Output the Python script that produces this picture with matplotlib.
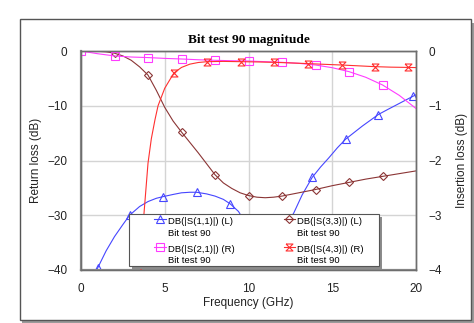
import numpy as np
import matplotlib
matplotlib.use("Agg")
import matplotlib.pyplot as plt
from matplotlib.patches import Rectangle
from matplotlib.legend_handler import HandlerLine2D

# --- data (GHz, dB) ---
# DB(|S(1,1)|), left axis
s11_f = [0.8, 1.0, 1.5, 2.0, 2.5, 2.9, 3.5, 4.0, 4.5, 4.9, 5.5, 6.0, 6.5, 6.9, 7.5, 8.0, 8.5, 8.9,
         9.4, 9.8, 10.2, 10.6, 10.9, 11.3, 11.7, 12.1, 12.7, 13.2, 13.8, 14.3, 14.8, 15.3, 15.8,
         16.3, 16.8, 17.3, 17.75, 18.3, 18.8, 19.3, 19.8, 20.0]
s11_db = [-40.6, -39.6, -36.5, -33.9, -31.7, -30.0, -28.4, -27.5, -26.9, -26.6, -26.2, -25.9,
          -25.8, -25.8, -26.1, -26.5, -27.1, -27.9, -29.3, -31.3, -33.8, -36.9, -39.9, -37.5,
          -35.0, -32.6, -29.6, -26.3, -23.1, -21.2, -19.5, -17.7, -16.1, -14.9, -13.7, -12.6,
          -11.6, -10.7, -9.9, -9.1, -8.3, -8.0]
s11_marks = [1.0, 2.9, 4.9, 6.9, 8.9, 10.9, 13.8, 15.8, 17.75, 19.8]

# DB(|S(3,3)|), left axis
s33_f = [0.0, 1.0, 1.5, 2.0, 2.5, 3.0, 3.5, 4.0, 4.5, 5.0, 5.5, 6.0, 6.5, 7.0, 7.5, 8.0, 8.5, 9.0,
         9.5, 10.0, 10.5, 11.0, 11.5, 12.0, 12.5, 13.0, 13.5, 14.0, 15.0, 16.0, 17.0, 18.0,
         19.0, 20.0]
s33_db = [0.0, -0.05, -0.15, -0.4, -0.9, -1.7, -2.9, -4.4, -7.2, -10.3, -12.8, -14.8, -16.7,
          -18.6, -20.6, -22.6, -24.1, -25.1, -25.9, -26.4, -26.7, -26.8, -26.7, -26.5, -26.2,
          -25.9, -25.6, -25.3, -24.6, -24.0, -23.4, -22.9, -22.4, -21.9]
s33_marks = [2.0, 4.0, 6.0, 8.0, 10.0, 12.0, 14.0, 16.0, 18.0]

# DB(|S(2,1)|), right axis
s21_f = [0.0, 1.0, 2.0, 3.0, 4.0, 5.0, 6.0, 7.0, 8.0, 9.0, 10.0, 11.0, 12.0, 13.0, 14.0, 15.0,
         16.0, 17.0, 18.0, 19.0, 20.0]
s21_db = [0.0, -0.05, -0.09, -0.11, -0.12, -0.135, -0.146, -0.16, -0.17, -0.178, -0.183,
          -0.195, -0.207, -0.225, -0.256, -0.305, -0.377, -0.48, -0.62, -0.81, -1.05]
s21_marks = [0.0, 2.0, 4.0, 6.0, 8.0, 10.0, 12.0, 14.0, 16.0, 18.0]

# DB(|S(4,3)|), right axis
s43_f = [3.3, 3.55, 3.76, 4.0, 4.2, 4.42, 4.6, 5.0, 5.55, 6.0, 6.5, 7.0, 7.54, 8.5, 9.53, 10.5,
         11.54, 12.5, 13.57, 14.5, 15.56, 16.5, 17.55, 18.5, 19.54, 20.0]
s43_db = [-5.2, -4.2, -2.97, -2.05, -1.6, -1.25, -1.0, -0.68, -0.4, -0.3, -0.24, -0.21, -0.195,
          -0.19, -0.195, -0.2, -0.207, -0.218, -0.23, -0.243, -0.256, -0.27, -0.286, -0.295,
          -0.3, -0.303]
s43_marks = [3.55, 5.55, 7.54, 9.53, 11.54, 13.57, 15.56, 17.55, 19.54]

legend_text = ["DB(|S(1,1)|) (L)\nBit test 90", "DB(|S(2,1)|) (R)\nBit test 90",
               "DB(|S(3,3)|) (L)\nBit test 90", "DB(|S(4,3)|) (R)\nBit test 90"]

plt.rcParams['font.family'] = ['Liberation Sans', 'DejaVu Sans']

hourglass = [(-1, 1), (1, 1), (-1, -1), (1, -1), (-1, 1)]


def marks(f, m):
    f = np.asarray(f)
    return [int(np.argmin(np.abs(f - v))) for v in m]


class FirstLineHandler(HandlerLine2D):
    # put the legend sample next to the first line of a two-line label
    def create_artists(self, legend, orig_handle, xdescent, ydescent, width, height,
                       fontsize, trans):
        return super().create_artists(legend, orig_handle, xdescent, ydescent - 1.85 * fontsize,
                                      width, height, fontsize, trans)


fig = plt.figure(figsize=(4.74, 3.23), dpi=100)
fw, fh = 474.0, 323.0

# outer frame with drop shadow
fig.patches.append(Rectangle((22 / fw, 0.5 / fh), 452 / fw, 300 / fh, transform=fig.transFigure,
                             facecolor='#9a9a9a', edgecolor='none', zorder=-2))
fig.patches.append(Rectangle((19.5 / fw, 3 / fh), 451 / fw, 301 / fh, transform=fig.transFigure,
                             facecolor='white', edgecolor='#555555', lw=1.0, zorder=-1))

ax = fig.add_axes([81 / fw, (323 - 270) / fh, 335 / fw, 219 / fh])
ax.set_facecolor('none')
ax2 = ax.twinx()

l1, = ax.plot(s11_f, s11_db, color='#4646ff', lw=0.8, marker='^', ms=5.5, mfc='none', mew=0.8,
              markevery=marks(s11_f, s11_marks))
l3, = ax.plot(s33_f, s33_db, color='#8b3535', lw=0.8, marker='D', ms=4, mfc='none', mew=0.8,
              markevery=marks(s33_f, s33_marks))
l2, = ax2.plot(s21_f, s21_db, color='#ff3cff', lw=0.8, marker='s', ms=5.5, mfc='none', mew=0.8,
               markevery=marks(s21_f, s21_marks))
l4, = ax2.plot(s43_f, s43_db, color='#ff3030', lw=0.8, marker=hourglass, ms=5, mfc='none',
               mew=0.8, markevery=marks(s43_f, s43_marks))

ax.set_xlim(0, 20)
ax.set_ylim(-40, 0)
ax2.set_ylim(-4, 0)
ax.set_xticks([0, 5, 10, 15, 20])
ax.set_yticks([-40, -30, -20, -10, 0])
ax2.set_yticks([-4, -3, -2, -1, 0])
ax.grid(True, color='#d4d4d4', lw=1.0)
ax.set_axisbelow(True)

ax.tick_params(axis='both', length=0, labelsize=8.5, colors='#222222')
ax.tick_params(axis='x', pad=9)
ax.tick_params(axis='y', pad=10)
ax2.tick_params(axis='y', length=0, labelsize=8.5, colors='#222222', pad=9)

ax.set_xlabel('Frequency (GHz)', fontsize=8.5, color='#222222', labelpad=2)
ax.set_ylabel('Return loss (dB)', fontsize=8.5, color='#222222', labelpad=3.5)
ax2.set_ylabel('Insertion loss (dB)', fontsize=8.5, color='#222222', labelpad=10)
ax.set_title('Bit test 90 magnitude', fontsize=9.6, fontweight='bold',
             family='Liberation Serif', pad=6)

for a in (ax, ax2):
    for side in a.spines:
        a.spines[side].set_color('#6e6e6e')
        a.spines[side].set_linewidth(1.0)
ax.spines['left'].set_linewidth(1.6)
ax.spines['bottom'].set_linewidth(1.6)
ax.spines['left'].set_color('#8a8a8a')
ax.spines['bottom'].set_color('#8a8a8a')

# legend box (drawn as patches) and entries on top
box_x0, box_y0 = (129 - 81) / 335, (270 - 266) / 219
box_w, box_h = 250 / 335, 52 / 219
ax2.add_patch(Rectangle((box_x0 + 3 / 335, box_y0 - 3 / 219), box_w, box_h,
                        transform=ax2.transAxes, facecolor='#8c8c8c', edgecolor='none',
                        zorder=8, clip_on=False))
ax2.add_patch(Rectangle((box_x0, box_y0), box_w, box_h, transform=ax2.transAxes,
                        facecolor='white', edgecolor='#555555', lw=0.8, zorder=9,
                        clip_on=False))

leg = ax2.legend([l1, l2, l3, l4], legend_text, ncol=2, loc='upper left',
                 bbox_to_anchor=((153 - 81) / 335, (270 - 216) / 219),
                 fontsize=6.8, frameon=False, borderpad=0.15, labelspacing=0.75,
                 handlelength=1.2, handletextpad=0.2, columnspacing=5.2, borderaxespad=0,
                 handler_map={l: FirstLineHandler() for l in (l1, l2, l3, l4)})
for t in leg.get_texts():
    t.set_linespacing(1.35)
leg.set_zorder(10)

fig.savefig('out.png', dpi=100)
